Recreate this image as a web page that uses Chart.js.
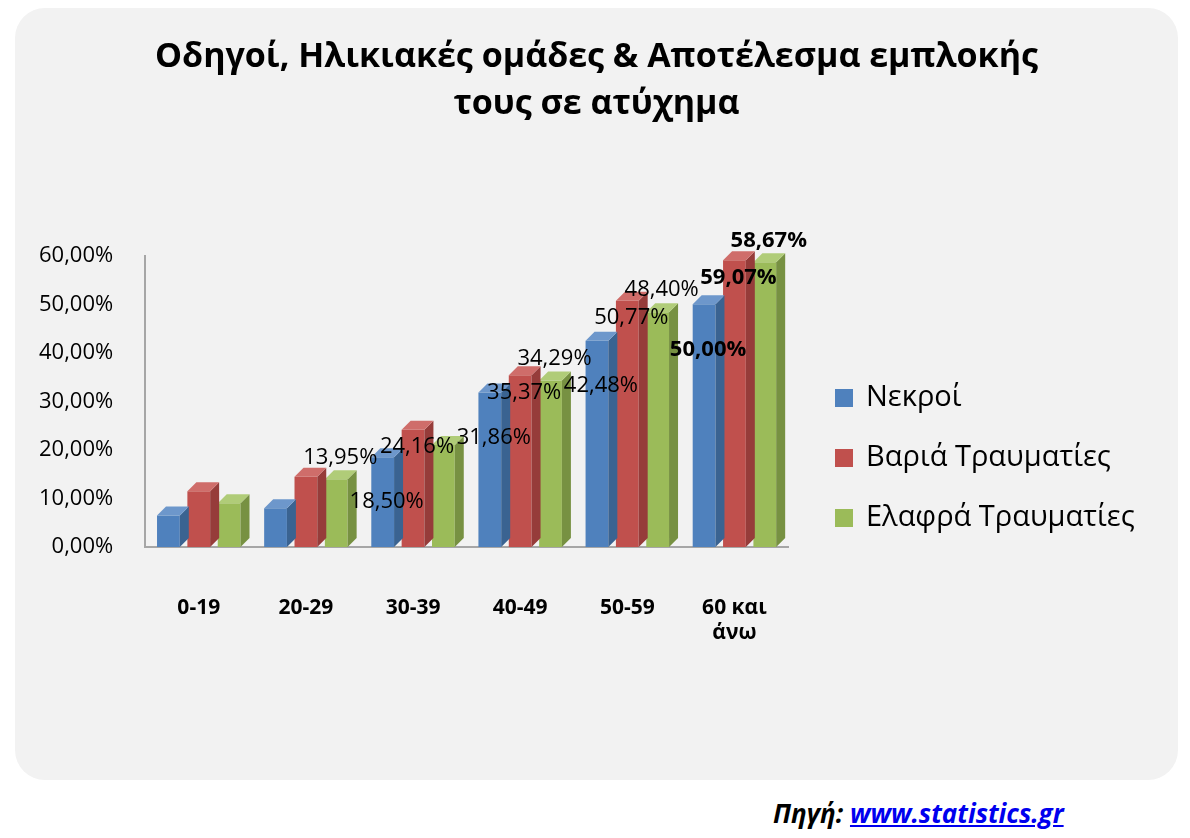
<!DOCTYPE html>
<html>
<head>
<meta charset="utf-8">
<script src="https://cdn.jsdelivr.net/npm/chart.js@4.4.1/dist/chart.umd.min.js"></script>
<style>
  body { margin: 0; background: #fff; width: 1190px; height: 838px; position: relative; overflow: hidden; font-family: "Open Sans", sans-serif; }
  #panel { position: absolute; left: 15px; top: 8px; width: 1163px; height: 772px; background: #f2f2f2; border-radius: 30px; }
  #chart { position: absolute; left: 0; top: 0; }
  #source { position: absolute; left: 773px; top: 795px; font-size: 26px; font-weight: bold; font-style: italic; color: #000; }
  #source a { color: #0000ee; text-decoration: underline; }
</style>
</head>
<body>
<div id="panel"><canvas id="chart" width="1163" height="772"></canvas></div>
<div id="source">Πηγή: <a>www.statistics.gr</a></div>
<script>
// age groups on the x axis
const ageGroups = ["0-19", "20-29", "30-39", "40-49", "50-59", ["60 και", "άνω"]];

// percentages per age group (first ones are estimated from the bar heights)
const deaths = [6.5, 8.0, 18.50, 31.86, 42.48, 50.00];
const seriousInjuries = [11.5, 14.5, 24.16, 35.37, 50.77, 59.07];
const minorInjuries = [9.0, 13.95, 21.0, 34.29, 48.40, 58.67];

// which bars carry a value label in the original
const deathsLabelled = [false, false, true, true, true, true];
const seriousLabelled = [false, false, true, true, true, true];
const minorLabelled = [false, true, false, true, true, true];

const seriesNames = ["Νεκροί", "Βαριά Τραυματίες", "Ελαφρά Τραυματίες"];
const yTicks = [0, 10, 20, 30, 40, 50, 60];

const fillColors = ["#4f81bd", "#c0504d", "#9bbb59"];
const sideColors = ["#3a6391", "#963c3a", "#779142"];
const topColors = ["#6d97cb", "#cf6d6a", "#b0cc78"];
const depth = 9;

const pct = (v) => v.toFixed(2).replace(".", ",") + "%";

// fake 3d: side and top faces on each bar, drawn from the bar elements
const bar3d = {
  id: "bar3d",
  afterDatasetDraw(chart, args) {
    const ctx = chart.ctx;
    const i = args.index;
    ctx.save();
    args.meta.data.forEach((bar) => {
      const l = bar.x - bar.width / 2;
      const r = bar.x + bar.width / 2;
      ctx.fillStyle = sideColors[i];
      ctx.beginPath();
      ctx.moveTo(r, bar.y);
      ctx.lineTo(r + depth, bar.y - depth);
      ctx.lineTo(r + depth, bar.base - depth);
      ctx.lineTo(r, bar.base);
      ctx.closePath();
      ctx.fill();
      ctx.fillStyle = topColors[i];
      ctx.beginPath();
      ctx.moveTo(l, bar.y);
      ctx.lineTo(l + depth, bar.y - depth);
      ctx.lineTo(r + depth, bar.y - depth);
      ctx.lineTo(r, bar.y);
      ctx.closePath();
      ctx.fill();
    });
    ctx.restore();
  },
};

// value labels
const labelFlags = [deathsLabelled, seriousLabelled, minorLabelled];
const valueLabels = {
  id: "valueLabels",
  afterDatasetsDraw(chart) {
    const ctx = chart.ctx;
    ctx.save();
    ctx.fillStyle = "#000";
    ctx.textAlign = "center";
    chart.data.datasets.forEach((ds, i) => {
      chart.getDatasetMeta(i).data.forEach((bar, j) => {
        if (!labelFlags[i][j]) return;
        const bold = j === ageGroups.length - 1;
        ctx.font = (bold ? "bold " : "") + "22px 'Open Sans'";
        let y;
        if (i === 2) { ctx.textBaseline = "bottom"; y = bar.y - depth - 2; }
        else if (i === 1) { ctx.textBaseline = "top"; y = bar.y + 6; }
        else { ctx.textBaseline = "middle"; y = bar.y + 45; }
        ctx.fillText(pct(ds.data[j]), bar.x + 4, y);
      });
    });
    ctx.restore();
  },
};

// legend on the right, drawn by hand so the long names are not cut
const sideLegend = {
  id: "sideLegend",
  afterDraw(chart) {
    const ctx = chart.ctx;
    const x = 820;
    const yMid = chart.chartArea.bottom - 89;
    ctx.save();
    ctx.font = "29px 'Open Sans'";
    ctx.textBaseline = "middle";
    ctx.textAlign = "left";
    chart.data.datasets.forEach((ds, i) => {
      const y = yMid + (i - 1) * 60;
      ctx.fillStyle = ds.backgroundColor;
      ctx.fillRect(x, y - 9, 18, 18);
      ctx.fillStyle = "#000";
      ctx.fillText(ds.label, x + 31, y);
    });
    ctx.restore();
  },
};

function draw() {
  new Chart(document.getElementById("chart"), {
    type: "bar",
    data: {
      labels: ageGroups,
      datasets: [
        { label: seriesNames[0], data: deaths, backgroundColor: fillColors[0] },
        { label: seriesNames[1], data: seriousInjuries, backgroundColor: fillColors[1] },
        { label: seriesNames[2], data: minorInjuries, backgroundColor: fillColors[2] },
      ],
    },
    options: {
      responsive: false,
      animation: false,
      layout: { padding: { left: 0, right: 0, top: 0, bottom: 122 } },
      datasets: { bar: { barPercentage: 0.75, categoryPercentage: 0.85 } },
      scales: {
        y: {
          min: 0,
          max: 60,
          afterBuildTicks: (axis) => { axis.ticks = yTicks.map((v) => ({ value: v })); },
          ticks: { callback: (v) => pct(v), color: "#000", padding: 24, font: { family: "Open Sans", size: 22 } },
          grid: { display: false },
          border: { display: true, color: "#a6a6a6", width: 2 },
        },
        // empty right axis that only keeps room for the legend
        room: {
          position: "right",
          display: true,
          ticks: { display: false },
          grid: { display: false },
          border: { display: false },
          afterFit: (axis) => { axis.width = 390; },
        },
        x: {
          ticks: { color: "#000", padding: 40, maxRotation: 0, font: { family: "Open Sans", size: 21, weight: "bold" } },
          grid: { display: false },
          border: { display: true, color: "#a6a6a6", width: 2 },
          afterFit: (axis) => { axis.height = 111; },
        },
      },
      plugins: {
        title: {
          display: true,
          text: ["Οδηγοί, Ηλικιακές ομάδες & Αποτέλεσμα εμπλοκής", "τους σε ατύχημα"],
          color: "#000",
          font: { family: "Open Sans", size: 34, weight: "bold", lineHeight: 1.38 },
          padding: { top: 26, bottom: 128 },
        },
        legend: { display: false },
        tooltip: { enabled: false },
      },
    },
    plugins: [bar3d, valueLabels, sideLegend],
  });
}

Promise.all([
  document.fonts.load("29px 'Open Sans'"),
  document.fonts.load("bold 34px 'Open Sans'"),
]).then(draw, draw);
</script>
</body>
</html>
